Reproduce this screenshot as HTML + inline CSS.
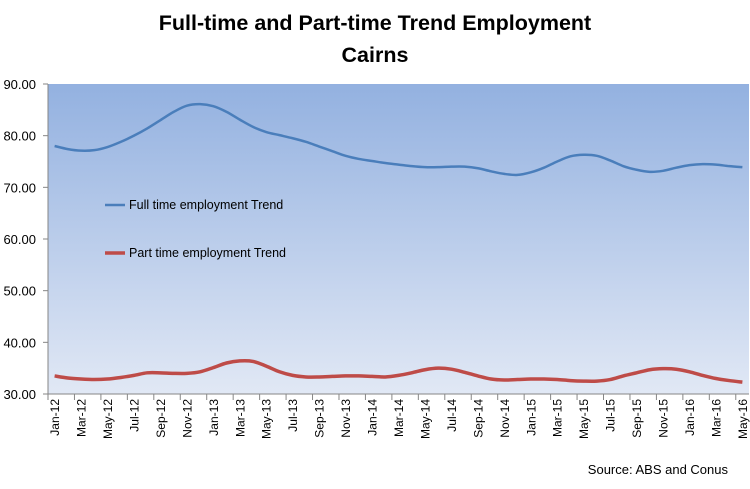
<!DOCTYPE html>
<html><head><meta charset="utf-8"><style>
html,body{margin:0;padding:0;background:#fff;}
svg{display:block;font-family:"Liberation Sans",sans-serif;}
</style></head><body>
<svg id="c" width="750" height="489" xmlns="http://www.w3.org/2000/svg">
<defs><linearGradient id="g" x1="0" y1="0" x2="0" y2="1">
<stop offset="0" stop-color="#93b1e0"/><stop offset="1" stop-color="#e1e8f5"/></linearGradient></defs>
<text x="375" y="30" text-anchor="middle" font-size="21.5" font-weight="bold" fill="#000">Full-time and Part-time Trend Employment</text>
<text x="375" y="62" text-anchor="middle" font-size="21.5" font-weight="bold" fill="#000">Cairns</text>
<rect x="48" y="84" width="701" height="310" fill="url(#g)"/>
<g id="ax"></g>
<text x="728" y="474" text-anchor="end" font-size="13" fill="#000">Source: ABS and Conus</text>
<line x1="105" y1="205" x2="125" y2="205" stroke="#4a7ebb" stroke-width="2.5"/>
<text x="129" y="209" font-size="12.5" fill="#000">Full time employment Trend</text>
<line x1="105" y1="253" x2="125" y2="253" stroke="#be4b48" stroke-width="3.5"/>
<text x="129" y="257" font-size="12.5" fill="#000">Part time employment Trend</text>
</svg>
<script>
var ft=[78,77.4,77.1,77.2,77.8,78.8,80,81.4,83,84.6,85.8,86.1,85.7,84.6,83.1,81.7,80.7,80.1,79.5,78.8,77.9,77,76.1,75.5,75.1,74.7,74.4,74.1,73.9,73.9,74,74,73.7,73.1,72.6,72.4,72.9,73.8,75,76,76.3,76.1,75.2,74.1,73.4,73,73.2,73.8,74.3,74.5,74.4,74.1,73.9];
var pt=[33.5,33.1,32.9,32.8,32.9,33.2,33.6,34.1,34.1,34,34,34.3,35.1,36,36.4,36.3,35.4,34.3,33.6,33.3,33.3,33.4,33.5,33.5,33.4,33.3,33.6,34.1,34.7,35,34.8,34.2,33.5,32.9,32.7,32.8,32.9,32.9,32.8,32.6,32.5,32.5,32.8,33.5,34.1,34.7,34.9,34.8,34.3,33.6,33,32.6,32.3];
var L=48,T=84,B=394,W=701,n=53,cw=W/n;
function X(i){return L+cw*(i+0.5);}
function Y(v){return T+(90-v)*(B-T)/60;}
function path(a){var p=a.map(function(v,i){return [X(i),Y(v)];});var d="M"+p[0][0]+","+p[0][1];
for(var i=0;i<p.length-1;i++){var p0=p[Math.max(0,i-1)],p1=p[i],p2=p[i+1],p3=p[Math.min(p.length-1,i+2)];
d+=" C"+(p1[0]+(p2[0]-p0[0])/6)+","+(p1[1]+(p2[1]-p0[1])/6)+" "+(p2[0]-(p3[0]-p1[0])/6)+","+(p2[1]-(p3[1]-p1[1])/6)+" "+p2[0]+","+p2[1];}return d;}
var s='';
s+='<line x1="48" y1="84" x2="48" y2="394" stroke="#868686"/>';
s+='<line x1="48" y1="394" x2="749" y2="394" stroke="#868686"/>';
for(var k=0;k<=6;k++){var v=90-k*10,y=Y(v);s+='<line x1="43" y1="'+y+'" x2="48" y2="'+y+'" stroke="#868686"/>';
s+='<text x="36" y="'+(y+5)+'" text-anchor="end" font-size="13" fill="#000">'+v.toFixed(2)+'</text>';}
var mn=["Jan","Mar","May","Jul","Sep","Nov"];
for(var i=0;i<n;i+=2){var tx=L+cw*i;s+='<line x1="'+tx+'" y1="394" x2="'+tx+'" y2="400" stroke="#868686"/>';
var lab=mn[(i%12)/2]+"-"+(12+Math.floor(i/12));var x=X(i);
s+='<text transform="translate('+(x+4.5)+',399) rotate(-90)" text-anchor="end" font-size="12" fill="#000">'+lab+'</text>';}
s+='<path d="'+path(ft)+'" fill="none" stroke="#4a7ebb" stroke-width="2.5"/>';
s+='<path d="'+path(pt)+'" fill="none" stroke="#be4b48" stroke-width="3.5"/>';
document.getElementById('ax').innerHTML=s;
</script>
</body></html>
